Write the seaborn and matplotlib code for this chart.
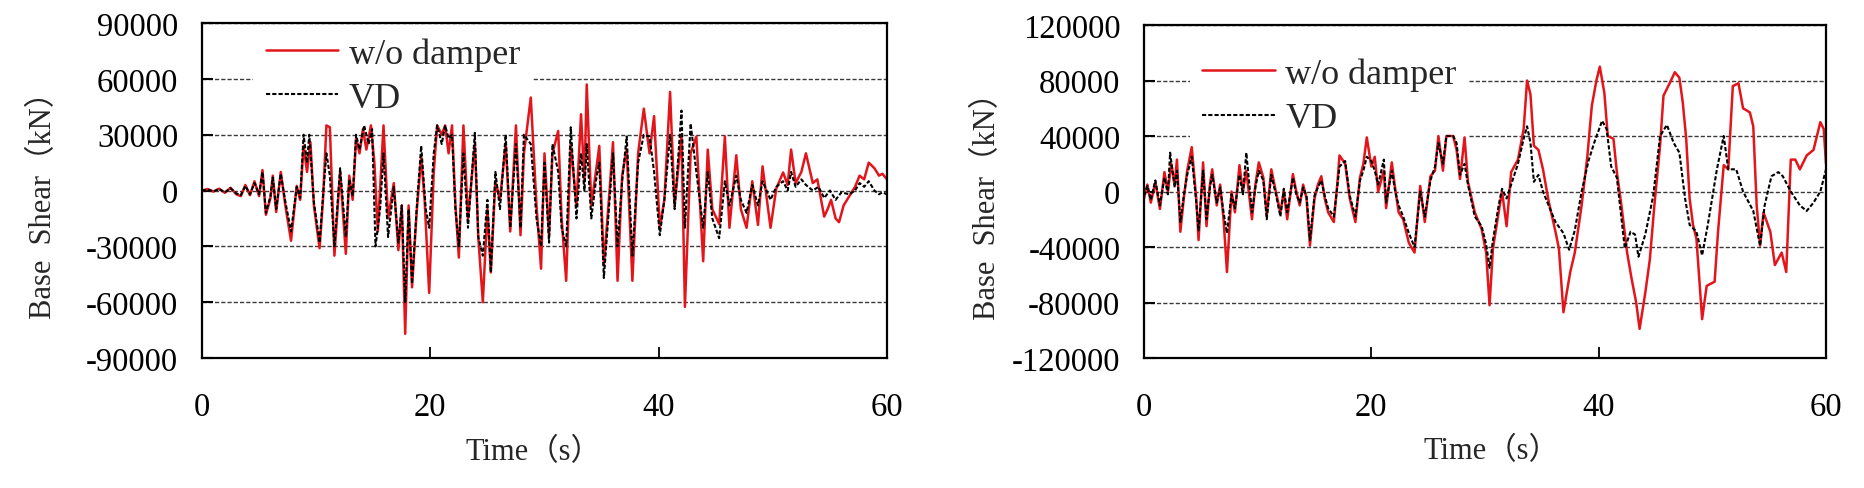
import matplotlib
matplotlib.use("Agg")
import matplotlib.pyplot as plt
import seaborn as sns
import pandas as pd

# time (s), base shear (kN) turning points
left_nodamper = [
    (0.0, 0), (0.5, 800), (1.0, -600), (1.5, 1000), (2.0, -1200), (2.5, 1500), (3.0, -2000),
    (3.4, -3000), (3.8, 3000), (4.2, -2500), (4.6, 5000), (5.0, -3000), (5.3, 11000), (5.6, -13000),
    (6.0, -4000), (6.2, 8000), (6.5, -11500), (6.9, 10000), (7.3, -8000), (7.8, -27000), (8.3, 2500),
    (8.6, -5000), (8.9, 24000), (9.2, 10000), (9.5, 26000), (9.8, -8000), (10.3, -31000), (10.6, -5000),
    (10.9, 35000), (11.2, 34000), (11.6, -35000), (12.1, 10000), (12.6, -34000), (12.9, 8000),
    (13.2, -5000), (13.5, 28000), (13.8, 20000), (14.1, 33000), (14.4, 22000), (14.8, 35000),
    (15.1, 15000), (15.4, -22000), (15.9, 35000), (16.3, -15000), (16.8, 4000), (17.2, -32000),
    (17.5, -8000), (17.8, -77000), (18.1, -8000), (18.4, -52000), (18.8, -12000), (19.2, 18000),
    (19.5, -5000), (19.9, -55000), (20.3, 10000), (20.6, 35000), (21.0, 30000), (21.3, 35000),
    (21.6, 20000), (21.9, 35000), (22.2, -8000), (22.5, -36000), (22.9, 35000), (23.3, -15000),
    (23.9, 25000), (24.2, -25000), (24.6, -60000), (25.0, -10000), (25.3, -44000), (25.7, 5000),
    (26.1, -5000), (26.6, 25000), (27.0, -22000), (27.5, 35000), (27.9, -24000), (28.2, 20000),
    (28.8, 50000), (29.3, -8000), (29.7, -42000), (30.0, 20000), (30.4, -24000), (30.7, 20000),
    (31.2, 32000), (31.5, -15000), (31.9, -48500), (32.3, 25000), (32.8, -8000), (33.2, 41000),
    (33.5, 5000), (33.7, 57000), (34.1, -8000), (34.5, 10000), (34.8, 24000), (35.2, -40000),
    (35.7, 0), (36.0, 26000), (36.4, -48500), (36.8, 8000), (37.2, 22000), (37.7, -48500),
    (38.2, 20000), (38.7, 44000), (39.2, 20000), (39.6, 40000), (40.1, -20000), (40.5, -5000),
    (41.0, 53000), (41.4, -8000), (42.0, 30000), (42.3, -62500), (42.8, 20000), (43.3, 29000),
    (43.9, -38000), (44.3, 22000), (44.7, -10000), (45.3, -18000), (45.8, 29000), (46.2, -20000),
    (46.8, 19000), (47.2, -10000), (47.7, -20000), (48.2, 5000), (48.7, -18500), (49.1, 13000),
    (49.8, -20000), (50.3, 1000), (50.9, 9700), (51.3, 3000), (51.6, 22000), (52.0, 4000),
    (52.5, 10000), (52.9, 20000), (53.5, 4000), (53.9, 6000), (54.5, -14000), (54.8, -10000),
    (55.1, -5000), (55.5, -15000), (55.8, -17000), (56.2, -8000), (56.7, -3000), (57.2, 2000),
    (57.6, 8000), (58.0, 6000), (58.4, 15000), (58.9, 12000), (59.3, 8000), (59.6, 9000), (60.0, 6000),
]
left_vd = [
    (0.0, 0), (0.5, 600), (1.0, -500), (1.5, 800), (2.0, -1000), (2.5, 1200), (3.0, -1500),
    (3.4, -2500), (3.8, 2500), (4.2, -2000), (4.6, 4000), (5.0, -2000), (5.3, 10000), (5.6, -12000),
    (6.0, -3000), (6.2, 7000), (6.5, -10000), (6.9, 9000), (7.3, -6000), (7.8, -22000), (8.3, 2000),
    (8.6, -4000), (8.9, 30000), (9.2, 15000), (9.4, 30000), (9.8, -6000), (10.3, -28000), (10.6, -3000),
    (10.9, 20000), (11.2, 8000), (11.6, -30000), (12.1, 12000), (12.6, -25000), (12.9, 6000),
    (13.2, -3000), (13.5, 30000), (13.8, 22000), (14.2, 35000), (14.6, 25000), (14.9, 33000),
    (15.2, -30000), (15.6, -10000), (15.9, 20000), (16.3, -25000), (16.8, 2000), (17.2, -28000),
    (17.5, -8000), (17.8, -60000), (18.1, -10000), (18.4, -50000), (18.8, -10000), (19.2, 24000),
    (19.6, -10000), (19.9, -20000), (20.3, 20000), (20.6, 35000), (21.0, 25000), (21.3, 35000),
    (21.6, 28000), (21.9, 30000), (22.2, -10000), (22.5, -30000), (22.9, 20000), (23.3, -20000),
    (23.9, 31000), (24.2, -25000), (24.6, -35000), (25.0, -5000), (25.3, -44000), (25.7, 10000),
    (26.1, -10000), (26.6, 30000), (27.0, -20000), (27.5, 25000), (27.9, -20000), (28.2, 30000),
    (28.8, 25000), (29.3, -15000), (29.7, -30000), (30.0, 15000), (30.4, -28000), (30.7, 25000),
    (31.2, 10000), (31.5, -20000), (31.9, -30000), (32.3, 34000), (32.8, -15000), (33.2, 20000),
    (33.5, 0), (33.7, 25000), (34.1, -15000), (34.5, 5000), (34.8, 15000), (35.2, -47000),
    (35.7, -5000), (36.0, 20000), (36.4, -30000), (36.8, 5000), (37.2, 29000), (37.7, -35000),
    (38.2, 15000), (38.7, 30000), (39.2, 29000), (39.6, 10000), (40.1, -24000), (40.5, -5000),
    (41.0, 30000), (41.4, -10000), (42.0, 43000), (42.3, -20000), (42.8, 36000), (43.3, 10000),
    (43.9, -20000), (44.3, 10000), (44.7, -15000), (45.3, -25600), (45.8, 5000), (46.2, -8000),
    (46.8, 8000), (47.2, -5000), (47.7, -12000), (48.2, 3000), (48.7, -8000), (49.1, 5000),
    (49.8, -5000), (50.3, 2000), (50.9, 5000), (51.3, 0), (51.6, 10000), (52.0, 2000),
    (52.5, 6000), (52.9, 3000), (53.5, 0), (54.0, 2000), (54.5, -4000), (55.0, 0),
    (55.5, -5000), (56.0, -1000), (56.7, -2000), (57.2, 0), (57.6, 4000), (58.0, 2000),
    (58.4, 5000), (58.9, 0), (59.3, -2000), (59.6, -1000), (60.0, -2000),
]
right_nodamper = [
    (0.0, -5000), (0.3, 5000), (0.6, -8000), (1.0, 6600), (1.4, -12600), (1.8, 14000), (2.1, 0),
    (2.4, 20000), (2.7, 5000), (2.9, 23000), (3.2, -29000), (3.5, -5000), (3.8, 15000), (4.2, 32000),
    (4.6, -5000), (4.8, -35000), (5.2, 21000), (5.5, -25000), (5.8, 5000), (6.0, 16000), (6.4, -10000),
    (6.7, 5000), (7.0, -20000), (7.3, -58000), (7.7, 0), (8.0, -15000), (8.4, 19000), (8.7, 0),
    (9.0, 15000), (9.5, -20000), (9.8, 5000), (10.1, 21000), (10.5, 10000), (10.8, -17000),
    (11.2, 16000), (11.6, 0), (12.0, -15000), (12.3, 0), (12.6, -20000), (13.1, 12600), (13.4, 0),
    (13.7, -10000), (14.0, 5000), (14.3, -5000), (14.6, -39000), (15.0, -5000), (15.3, 5000),
    (15.6, 11000), (15.9, -5000), (16.2, -15000), (16.7, -22000), (17.0, 5000), (17.2, 26000),
    (17.7, 20000), (18.1, -5000), (18.6, -22000), (19.0, 10000), (19.3, 20000), (19.6, 39000),
    (20.0, 18000), (20.3, 25000), (20.6, 0), (21.1, 15000), (21.3, -12000), (21.8, 21000),
    (22.1, 2000), (22.4, -15000), (22.8, -20000), (23.3, -37000), (23.8, -44000), (24.3, 4000),
    (24.7, -22000), (25.2, 11000), (25.6, 15000), (25.9, 40000), (26.3, 15000), (26.6, 40000),
    (27.2, 40000), (27.5, 30000), (27.8, 9000), (28.2, 39000), (28.5, 7000), (29.1, -15000),
    (29.7, -27000), (30.1, -44000), (30.4, -82000), (30.7, -41000), (31.2, -15000), (31.5, 0),
    (31.9, -25000), (32.3, 14000), (32.9, 23000), (33.4, 45000), (33.7, 80000), (34.0, 70000),
    (34.3, 33000), (34.7, 30000), (35.1, 16000), (35.6, -7000), (36.2, -29000), (36.5, -41000),
    (36.9, -87000), (37.5, -58000), (37.9, -44000), (38.5, -10000), (39.0, 25000), (39.4, 62000),
    (39.8, 80000), (40.1, 90000), (40.5, 71000), (40.8, 40000), (41.3, 38000), (41.6, 14000),
    (42.0, -10000), (42.5, -44000), (42.9, -63000), (43.3, -80000), (43.6, -99000), (44.1, -73000),
    (44.5, -49000), (44.9, -10000), (45.4, 33000), (45.7, 69000), (46.3, 79000), (46.7, 86000),
    (47.1, 82000), (47.4, 64000), (47.7, 38000), (48.0, -5000), (48.3, -24000), (48.6, -34000),
    (49.1, -92000), (49.5, -68000), (50.2, -65000), (50.5, -29000), (51.0, 19000), (51.4, 16000),
    (51.8, 76000), (52.3, 78000), (52.7, 60000), (53.3, 57000), (53.6, 47000), (53.9, -10000),
    (54.2, -39000), (54.5, -15000), (55.1, -29000), (55.5, -53000), (56.1, -44000), (56.5, -58000),
    (56.9, 23000), (57.3, 23000), (57.7, 16000), (58.3, 26000), (58.9, 30000), (59.5, 50000),
    (59.8, 45000), (60.0, 20000),
]
right_vd = [
    (0.0, -3000), (0.3, 4000), (0.6, -6000), (1.0, 8000), (1.4, -10000), (1.8, 10000), (2.1, -2000),
    (2.3, 28000), (2.7, 3000), (2.9, 15000), (3.2, -22000), (3.5, -3000), (3.8, 12000), (4.2, 25000),
    (4.6, -8000), (4.8, -28000), (5.2, 15000), (5.5, -20000), (5.8, 3000), (6.0, 12000), (6.4, -8000),
    (6.7, 3000), (7.0, -15000), (7.3, -30000), (7.7, -2000), (8.0, -12000), (8.4, 12000), (8.7, -2000),
    (9.0, 28000), (9.5, -15000), (9.8, 3000), (10.1, 15000), (10.5, 8000), (10.8, -20000),
    (11.2, 12000), (11.6, -2000), (12.0, -18000), (12.3, 2000), (12.6, -15000), (13.1, 10000),
    (13.4, -2000), (13.7, -8000), (14.0, 3000), (14.3, -3000), (14.6, -35000), (15.0, -3000),
    (15.3, 3000), (15.6, 8000), (15.9, -3000), (16.2, -12000), (16.7, -18000), (17.0, 3000),
    (17.2, 18000), (17.7, 22000), (18.1, -3000), (18.6, -18000), (19.0, 8000), (19.3, 15000),
    (19.6, 25000), (20.0, 22000), (20.3, 15000), (20.6, 5000), (21.1, 23000), (21.3, -8000),
    (21.8, 15000), (22.1, 0), (22.4, -10000), (22.8, -18000), (23.3, -30000), (23.8, -40000),
    (24.3, 0), (24.7, -18000), (25.2, 8000), (25.6, 18000), (25.9, 35000), (26.3, 20000),
    (26.6, 40000), (27.2, 40000), (27.5, 35000), (27.8, 12000), (28.2, 20000), (28.5, 5000),
    (29.1, -18000), (29.7, -25000), (30.1, -38000), (30.4, -55000), (30.7, -35000), (31.2, -10000),
    (31.5, 2000), (31.9, -5000), (32.3, 5000), (32.9, 20000), (33.4, 38000), (33.7, 47000),
    (34.0, 35000), (34.3, 7000), (34.7, 12000), (35.1, 0), (35.6, -10000), (36.2, -22000),
    (36.9, -30000), (37.4, -42000), (37.9, -28000), (38.5, 0), (39.1, 22000), (39.6, 35000),
    (40.3, 51000), (40.7, 45000), (41.1, 18000), (41.6, 10000), (42.0, -19000), (42.3, -41000),
    (42.8, -29000), (43.2, -31000), (43.5, -47000), (44.1, -31000), (44.8, -3000), (45.4, 40000),
    (46.0, 48000), (46.6, 35000), (47.1, 28000), (47.6, -5000), (48.0, -24000), (48.6, -29000),
    (49.1, -46000), (49.6, -24000), (50.4, 16000), (51.0, 40000), (51.4, 16000), (52.1, 16000),
    (52.7, 0), (53.6, -14000), (54.2, -39000), (54.6, -10000), (55.2, 11000), (55.8, 14000),
    (56.2, 11000), (56.9, 0), (57.7, -10000), (58.3, -14000), (58.9, -8000), (59.5, 0), (60.0, 16000),
]

x_ticks = [0, 20, 40, 60]
left_yticks = [-90000, -60000, -30000, 0, 30000, 60000, 90000]
right_yticks = [-120000, -80000, -40000, 0, 40000, 80000, 120000]
series_names = ["w/o damper", "VD"]

sns.set_theme(style="white")
plt.rcParams['font.family'] = ['Liberation Serif', 'Noto Sans CJK SC']
plt.rcParams['axes.unicode_minus'] = False

fig = plt.figure(figsize=(18.65, 4.89), dpi=100)
ax1 = fig.add_axes([0.1083, 0.2658, 0.3673, 0.685])
ax2 = fig.add_axes([0.6134, 0.2658, 0.3657, 0.681])


def draw(ax, nodamper, vd, yticks, leg_pos, ylab_x, xlab_x):
    d1 = pd.DataFrame(nodamper, columns=["t", "v"])
    d2 = pd.DataFrame(vd, columns=["t", "v"])
    sns.lineplot(data=d1, x="t", y="v", ax=ax, color="#e3151b", lw=1.8,
                 estimator=None, sort=False, label=series_names[0])
    sns.lineplot(data=d2, x="t", y="v", ax=ax, color="black", lw=1.5,
                 linestyle=(0, (2, 1)), estimator=None, sort=False, label=series_names[1])
    ax.set_xlim(0, 60)
    ax.set_ylim(yticks[0], yticks[-1])
    ax.set_xticks(x_ticks)
    ax.set_xticklabels([str(v) for v in x_ticks])
    ax.set_yticks(yticks)
    ax.set_yticklabels([str(v) for v in yticks])
    ax.yaxis.grid(True, linestyle=(0, (3, 1.5)), color="#3a3a3a", lw=1.0)
    ax.xaxis.grid(False)
    for s in ax.spines.values():
        s.set_color("black")
        s.set_linewidth(1.6)
    ax.tick_params(axis="x", direction="in", length=8, width=1.3, pad=24,
                   labelsize=23.5, colors="black", bottom=True)
    ax.tick_params(axis="y", direction="in", length=8, width=1.5, pad=17,
                   labelsize=23.5, colors="black", left=True)
    ax.set_xlabel("Time（s）", fontsize=22)
    ax.set_ylabel("Base  Shear（kN）", fontsize=22)
    ax.xaxis.set_label_coords(xlab_x, -0.235)
    ax.yaxis.set_label_coords(ylab_x, 0.48)
    leg = ax.legend(loc="upper left", bbox_to_anchor=leg_pos, frameon=True,
                    facecolor="white", edgecolor="none", framealpha=1, fancybox=False,
                    fontsize=26, handlelength=2.0, handletextpad=0.3,
                    labelspacing=0.3, borderpad=0.35, borderaxespad=0)
    leg.set_zorder(1.5)


draw(ax1, left_nodamper, left_vd, left_yticks, (0.075, 0.995), -0.21, 0.484)
draw(ax2, right_nodamper, right_vd, right_yticks, (0.067, 0.94), -0.208, 0.51)

fig.savefig("out.png", dpi=100)
